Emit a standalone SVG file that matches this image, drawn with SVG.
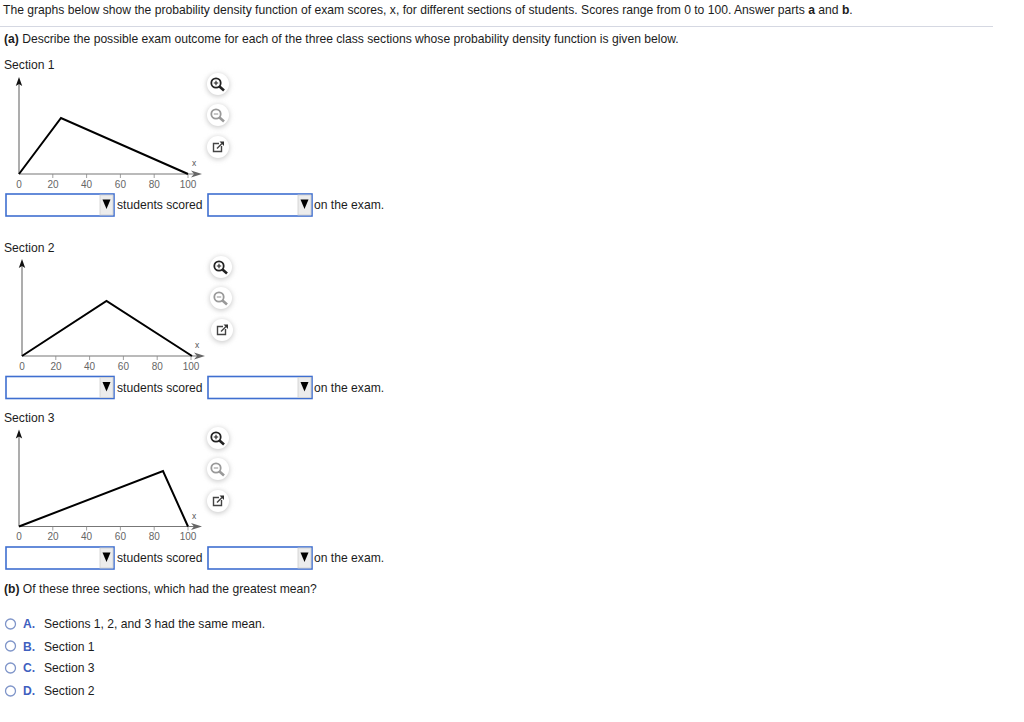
<svg xmlns="http://www.w3.org/2000/svg" width="1024" height="722" viewBox="0 0 1024 722">
<style>
text{font-family:"Liberation Sans",Arial,sans-serif;font-size:12.13px;fill:#1c1c1c}
.b{font-weight:700}
.t{font-size:10px;fill:#666;text-anchor:middle}
.x{font-size:8.500px;fill:#555;text-anchor:middle}
.ax{fill:none;stroke:#777;stroke-width:1.2}
.tk{fill:none;stroke:#888;stroke-width:.8}
.cv{fill:none;stroke:#000;stroke-width:2}
.tip{fill:#111}
.tipx{fill:#666}
.opt{fill:#3f5fbf;font-weight:700}
.rad{fill:#fff;stroke:#7f95c9;stroke-width:1.300}
.sel{fill:#fff;stroke:#3f6fd0;stroke-width:1.600}
.btn{fill:#ececec;stroke:#d0d0d0;stroke-width:.8}
</style>
<defs>
<filter id="sh" x="-50%" y="-50%" width="200%" height="200%"><feGaussianBlur stdDeviation="2.400"/></filter>
<g id="disc"><circle r="11.500" cy="1" fill="#ccc" filter="url(#sh)"/><circle r="11" fill="#fff"/></g>
<g id="zin"><use href="#disc"/><circle cx="-2" cy="-1" r="4.700" fill="none" stroke="#222" stroke-width="1.800"/><path d="M1.500 2.500L6 6.500" stroke="#222" stroke-width="2.600"/><path d="M-4.200-1H.2M-2-3.200V1.200" stroke="#222" stroke-width="1.100"/></g>
<g id="zout"><use href="#disc"/><circle cx="-2" cy="-1" r="4.700" fill="none" stroke="#999" stroke-width="1.800"/><path d="M1.500 2.500L6 6.500" stroke="#999" stroke-width="2.600"/><path d="M-4.200-1H.2" stroke="#999" stroke-width="1.100"/></g>
<g id="ext"><use href="#disc"/><path d="M1-3.500H-4.500V4.500H3.500V-1" fill="none" stroke="#444" stroke-width="1.400"/><path d="M-1 1.500L4-3.500" stroke="#444" stroke-width="1.400"/><path d="M1.500-5.500H6V-1Z" fill="#333"/></g>
<g id="axes">
<path class="ax" d="M0 0V-92M0 0H177"/>
<path class="tip" d="M0-97L-3.200-88L0-90L3.200-88Z"/><path class="tipx" d="M183 0L172-3.500L175 0L172 3.500Z"/>
<path class="tk" d="M33.800 0V4M67.600 0V4M101.400 0V4M135.200 0V4M169 0V4"/>
<text class="t" x="0" y="13.500">0</text><text class="t" x="34" y="13.500">20</text><text class="t" x="67.600" y="13.500">40</text><text class="t" x="101.400" y="13.500">60</text><text class="t" x="135.200" y="13.500">80</text><text class="t" x="169" y="13.500">100</text>
<text class="x" x="175" y="-8">x</text>
</g>
<g id="row">
<rect class="sel" x="6" y="0" width="108" height="22"/>
<rect class="btn" x="100" y="1" width="13" height="20"/>
<path d="M102.500 5.500H110.500L106.500 15Z" fill="#000"/>
<text x="117" y="15.300">students scored</text>
<rect class="sel" x="208" y="0" width="104" height="22"/>
<rect class="btn" x="298" y="1" width="13" height="20"/>
<path d="M300.500 5.500H308.500L304.500 15Z" fill="#000"/>
<text x="314" y="15.300">on the exam.</text>
</g>
</defs>

<g id="header">
<text x="3" y="14">The graphs below show the probability density function of exam scores, x, for different sections of students. Scores range from 0 to 100. Answer parts <tspan class="b">a</tspan> and <tspan class="b">b</tspan>.</text>
<path d="M0 26.500H993" stroke="#d5d8e2" stroke-width="1"/>
<text x="4" y="43"><tspan class="b">(a)</tspan> Describe the possible exam outcome for each of the three class sections whose probability density function is given below.</text>
</g>

<g id="section1">
<text x="4" y="69">Section 1</text>
<use href="#axes" x="19" y="174"/>
<path class="cv" d="M19 174L61 118L188 174"/>
<use href="#zin" x="218" y="84"/><use href="#zout" x="218" y="115"/><use href="#ext" x="218" y="147"/>
<use href="#row" y="194"/>
</g>

<g id="section2">
<text x="4" y="252">Section 2</text>
<use href="#axes" x="22" y="356"/>
<path class="cv" d="M22 356L106.500 301L192 356"/>
<use href="#zin" x="221" y="267"/><use href="#zout" x="221" y="298"/><use href="#ext" x="222" y="330"/>
<use href="#row" y="376.500"/>
</g>

<g id="section3">
<text x="4" y="422">Section 3</text>
<use href="#axes" x="19" y="526.500"/>
<path class="cv" d="M19 526.500L163 471L188 526.500"/>
<use href="#zin" x="218" y="438"/><use href="#zout" x="218" y="469"/><use href="#ext" x="218" y="501"/>
<use href="#row" y="547"/>
</g>

<g id="partb">
<text x="4" y="593"><tspan class="b">(b)</tspan> Of these three sections, which had the greatest mean?</text>
<circle class="rad" cx="10.500" cy="624" r="5"/><text class="opt" x="23" y="628">A.</text><text x="44" y="628">Sections 1, 2, and 3 had the same mean.</text>
<circle class="rad" cx="10.500" cy="646" r="5"/><text class="opt" x="23" y="651">B.</text><text x="44" y="651">Section 1</text>
<circle class="rad" cx="10.500" cy="668" r="5"/><text class="opt" x="23" y="672">C.</text><text x="44" y="672">Section 3</text>
<circle class="rad" cx="10.500" cy="691" r="5"/><text class="opt" x="23" y="695">D.</text><text x="44" y="695">Section 2</text>
</g>
</svg>
